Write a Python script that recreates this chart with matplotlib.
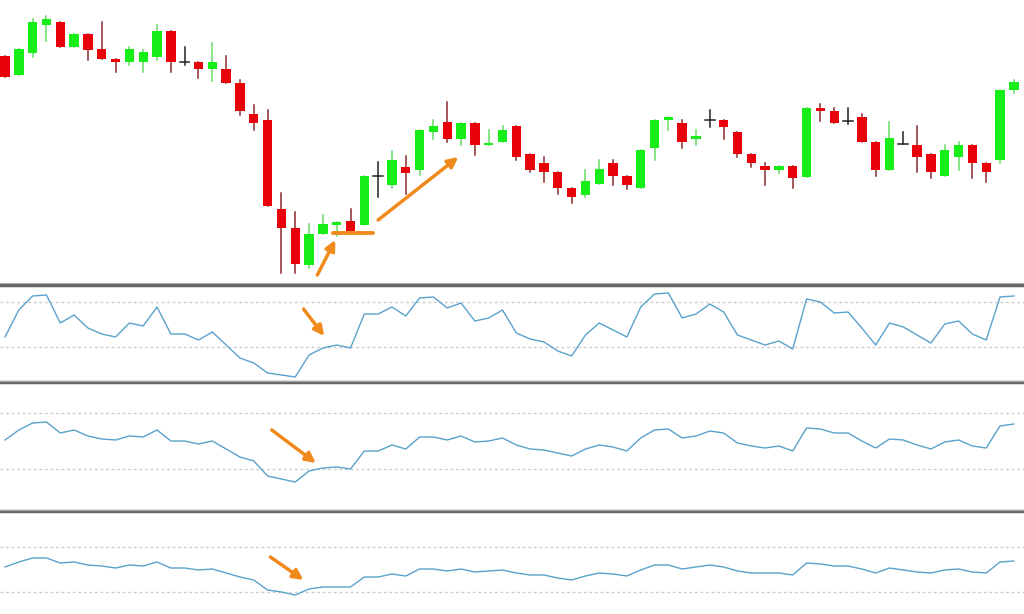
import matplotlib
matplotlib.use("Agg")
import matplotlib.pyplot as plt
from matplotlib.lines import Line2D

# price panel values (screen-like units, larger = lower)
opens  = [56,75,53,25,22,47,34,49,59,62,62,57,31,62,62,69,69,83,114,120,209,228,265,234,
          225,221,225,176,185,167,170,132,122,139,123,145,142,126,154,163,172,188,195,184,163,176,188,148,
          120,123,139,120,120,132,154,166,170,166,177,108,111,121,117,142,170,144,145,154,176,157,145,163,160,90]
closes = [77,49,22,19,47,34,50,59,62,49,52,31,62,62,69,62,83,111,123,206,228,264,234,224,
          222,231,176,176,160,173,130,126,139,123,145,143,130,157,170,172,188,197,181,169,176,185,150,120,
          117,142,136,120,127,154,163,170,166,178,108,111,123,121,142,170,138,144,157,172,150,145,163,172,90,82]
highs  = [56,49,19,16,22,34,34,22,59,47,50,25,31,47,62,43,56,80,105,110,193,212,224,215,
          222,209,176,162,151,156,130,120,102,123,123,130,126,126,154,157,172,188,170,160,160,176,150,120,
          117,120,130,110,120,132,154,163,166,166,108,104,108,108,114,142,122,132,126,154,145,142,145,163,90,80]
lows   = [77,75,57,41,47,47,60,59,72,65,72,60,72,65,78,81,83,115,130,206,273,273,268,234,
          236,231,225,197,188,194,175,139,142,145,155,145,142,160,172,182,194,203,197,184,185,189,188,160,
          130,148,145,127,139,157,167,185,173,188,177,121,123,124,142,176,170,144,172,178,176,170,178,182,163,93]

osc1 = [337,310,296,295,323,315,328,334,337,323,326,307,334,334,340,332,345,358,363,373,375,377,355,348,
        345,348,314,314,307,316,298,297,308,303,321,318,310,333,339,342,351,356,335,323,330,337,307,294,
        293,318,314,304,312,335,340,345,341,349,299,302,313,312,328,345,323,327,335,343,324,321,334,340,297,296]
osc2 = [440,430,423,422,433,430,436,439,440,436,437,430,441,441,444,441,449,457,461,476,479,482,471,468,
        467,469,451,451,445,449,437,437,440,436,442,441,438,445,449,450,453,456,449,445,447,451,438,430,
        429,438,436,431,433,443,446,448,446,451,428,429,433,433,441,448,439,440,445,449,442,440,446,448,426,424]
osc3 = [567,562,558,558,563,562,565,566,568,565,566,562,568,568,570,569,573,577,580,590,592,595,589,587,
        587,587,577,577,574,576,569,569,571,569,572,571,570,573,575,575,578,580,576,573,574,576,570,565,
        565,569,567,565,567,571,573,573,573,575,563,564,566,566,569,573,568,570,572,573,570,569,572,573,562,561]
levels1 = [302, 347]
levels2 = [413, 469]
levels3 = [547, 592]

W, H = 1024, 614
fig = plt.figure(figsize=(W/100, H/100), dpi=100)
fig.patch.set_facecolor("white")
n = len(opens)
xl = (-5/13.82, (W-5)/13.82)

def ax_at(top, bot, ylim):
    ax = fig.add_axes([0, 1-bot/H, 1, (bot-top)/H])
    ax.set_xlim(*xl); ax.set_ylim(*ylim); ax.axis("off")
    return ax

GREEN, RED = "#17ee17", "#e8000b"
ax0 = ax_at(0, 283, (283, 0))
for i in range(n):
    o, c, h, l = opens[i], closes[i], highs[i], lows[i]
    if abs(o-c) < 1:
        col, wc = "#222222", "#222222"
    elif c < o:
        col, wc = GREEN, "#66dd66"
    else:
        col, wc = RED, "#8a2a2a"
    ax0.plot([i, i], [h, l], color=wc, lw=1.1, zorder=1)
    if abs(o-c) < 1:
        ax0.plot([i-0.35, i+0.35], [o, o], color=col, lw=1.1, zorder=2)
    else:
        ax0.add_patch(plt.Rectangle((i-0.34, min(o, c)), 0.68, abs(o-c), color=col, zorder=2, lw=0))

OR = "#f08a1c"
ap = dict(arrowstyle="-|>,head_length=0.6,head_width=0.3", color=OR, lw=2.5, shrinkA=0, shrinkB=0)
ax0.annotate("", xy=(23.9, 240), xytext=(22.6, 275), arrowprops=ap)
ax0.plot([23.7, 26.6], [233, 233], color=OR, lw=2.8, solid_capstyle="round")
ax0.annotate("", xy=(32.8, 157), xytext=(27.0, 220), arrowprops=ap)

LINE = "#5aa2cc"
for (top, bot, vals, lv, arr) in [(286, 381, osc1, levels1, ((21.6, 309), (23.1, 336))),
                                  (384, 510, osc2, levels2, ((19.3, 430), (22.5, 463))),
                                  (513, 614, osc3, levels3, ((19.2, 557), (21.6, 580)))]:
    ax = ax_at(top, bot, (bot, top))
    for v in lv:
        ax.axhline(v, color="#cccccc", lw=1, ls=(0, (2, 2)))
    ax.plot(range(n), vals, color=LINE, lw=1)
    ax.annotate("", xy=arr[1], xytext=arr[0], arrowprops=ap)

for y in [284.5, 382, 511]:
    fig.add_artist(Line2D([0, 1], [1-y/H, 1-y/H], color="#666666", lw=2.5))
    fig.add_artist(Line2D([0, 1], [1-(y-1.5)/H, 1-(y-1.5)/H], color="#aaaaaa", lw=0.8))

fig.savefig("out.png", dpi=100)
